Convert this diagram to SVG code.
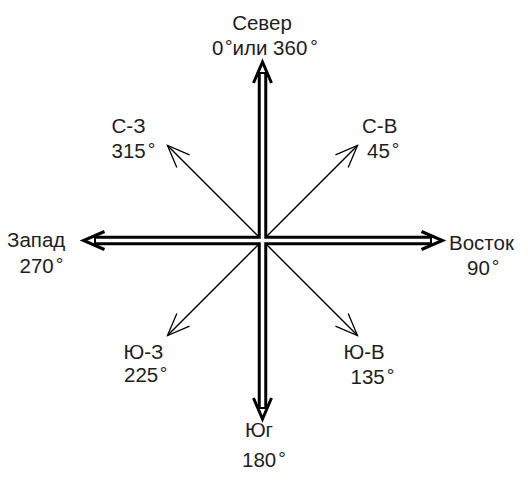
<svg xmlns="http://www.w3.org/2000/svg" xmlns:xlink="http://www.w3.org/1999/xlink" width="528" height="480" viewBox="0 0 528 480">
<style>
.lbl{font-family:"Liberation Sans",Arial,sans-serif;font-size:20.5px;fill:#1e1e1e}
.deg{font-size:19px}
.diag{stroke:#000;stroke-width:1.4;fill:none;marker-end:url(#thin)}
.outer{stroke:#000;stroke-width:9.5;fill:none}
.inner{stroke:#fff;stroke-width:3.5;fill:none}
.head{stroke:#000;stroke-width:3;fill:none;stroke-linejoin:miter;stroke-miterlimit:10}
</style>
<defs>
<marker id="thin" markerUnits="userSpaceOnUse" viewBox="-25 -11 27 22" markerWidth="27" markerHeight="22" refX="0" refY="0" orient="auto" overflow="visible">
<path d="M-22.2,-9 L0,0 L-22.2,9" stroke="#000" stroke-width="1.3" fill="none"/>
</marker>
<path id="mainHead" d="M-9,21 L0,0 L9,21"/>
</defs>
<rect width="528" height="480" fill="#fff"/>
<g id="connectors">
<line class="diag" x1="262.5" y1="240.5" x2="357.5" y2="145.5"/>
<line class="diag" x1="262.5" y1="240.5" x2="167.5" y2="145.5"/>
<line class="diag" x1="262.5" y1="240.5" x2="167.5" y2="335.5"/>
<line class="diag" x1="262.5" y1="240.5" x2="357.5" y2="335.5"/>
<path class="outer" d="M262.5,72 V409 M94,240.5 H432"/>
<path class="inner" d="M262.5,74 V407 M96,240.5 H430"/>
<use class="head" xlink:href="#mainHead" href="#mainHead" transform="translate(262.5,62)"/>
<use class="head" xlink:href="#mainHead" href="#mainHead" transform="translate(262.5,419) rotate(180)"/>
<use class="head" xlink:href="#mainHead" href="#mainHead" transform="translate(83.5,240.5) rotate(-90)"/>
<use class="head" xlink:href="#mainHead" href="#mainHead" transform="translate(442.5,240.5) rotate(90)"/>
</g>
<g id="north"><text class="lbl" x="262" y="30" text-anchor="middle">Север</text><text class="lbl" x="212" y="55">0<tspan class="deg" dx="1.5" dy="-2">°</tspan><tspan dy="2">или 360</tspan><tspan class="deg" dx="3" dy="-2">°</tspan></text></g>
<g id="northeast"><text class="lbl" x="362" y="132.5">С-В</text><text class="lbl" x="367" y="157.5">45<tspan class="deg" dx="2" dy="-2">°</tspan></text></g>
<g id="northwest"><text class="lbl" x="111.5" y="132.5">С-З</text><text class="lbl" x="111.5" y="158">315<tspan class="deg" dx="2" dy="-2">°</tspan></text></g>
<g id="west"><text class="lbl" x="7" y="246.5">Запад</text><text class="lbl" x="19.5" y="272.5">270<tspan class="deg" dx="2" dy="-2">°</tspan></text></g>
<g id="east"><text class="lbl" x="449" y="250">Восток</text><text class="lbl" x="467" y="275">90<tspan class="deg" dx="2" dy="-2">°</tspan></text></g>
<g id="southwest"><text class="lbl" x="123.5" y="358.5">Ю-З</text><text class="lbl" x="124" y="381.5">225<tspan class="deg" dx="1.5" dy="-2">°</tspan></text></g>
<g id="southeast"><text class="lbl" x="343.5" y="358.5">Ю-В</text><text class="lbl" x="350.5" y="383.5">135<tspan class="deg" dx="2" dy="-2">°</tspan></text></g>
<g id="south"><text class="lbl" x="259" y="436.5" text-anchor="middle">Юг</text><text class="lbl" x="242" y="467">180<tspan class="deg" dx="2" dy="-2">°</tspan></text></g>
</svg>
